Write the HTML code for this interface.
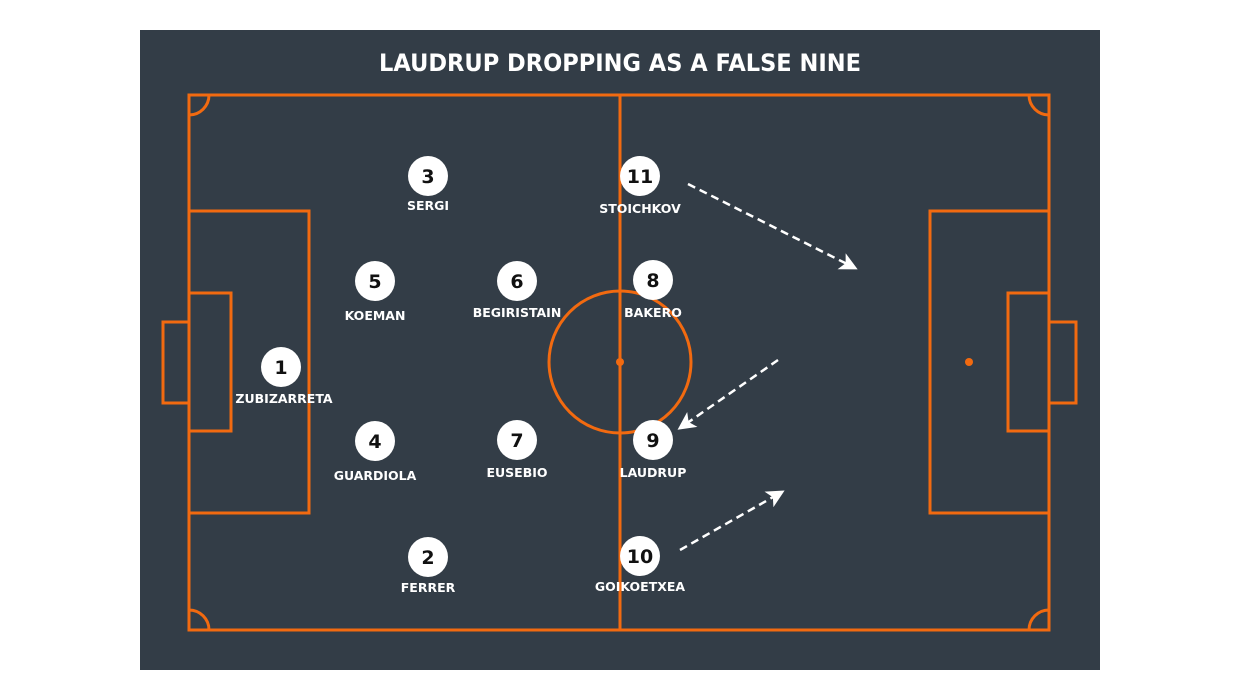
<!DOCTYPE html>
<html><head><style>
body{margin:0;width:1242px;height:700px;background:#fff;overflow:hidden}
svg{display:block}
text{font-family:"DejaVu Sans","Liberation Sans",sans-serif;font-weight:bold}
</style></head><body>
<svg width="1242" height="700" viewBox="0 0 1242 700">
<defs>
<marker id="a2" viewBox="0 0 12 12" markerWidth="18" markerHeight="18" refX="10" refY="6" orient="auto" markerUnits="userSpaceOnUse"><path d="M0,0 L12,6 L0,12 L3,6 Z" fill="#fff"/></marker></defs>
<rect x="140" y="30" width="960" height="640" fill="#333d47"/>
<text x="620" y="71" fill="#fff" font-size="24" text-anchor="middle" textLength="482" lengthAdjust="spacingAndGlyphs">LAUDRUP DROPPING AS A FALSE NINE</text>
<g fill="none" stroke="#f26a10" stroke-width="3">
<rect x="189" y="95" width="860" height="535"/>
<line x1="620" y1="95" x2="620" y2="630"/>
<circle cx="620" cy="362" r="71"/>
<rect x="189" y="211" width="120" height="302"/>
<rect x="189" y="293" width="42" height="138"/>
<rect x="163" y="322" width="26" height="81"/>
<rect x="930" y="211" width="119" height="302"/>
<rect x="1008" y="293" width="41" height="138"/>
<rect x="1049" y="322" width="27" height="81"/>
<path d="M209,95 A20,20 0 0 1 189,115"/>
<path d="M189,610 A20,20 0 0 1 209,630"/>
<path d="M1029,95 A20,20 0 0 0 1049,115"/>
<path d="M1049,610 A20,20 0 0 0 1029,630"/>
</g>
<circle cx="620" cy="362" r="4" fill="#f26a10"/>
<circle cx="969" cy="362" r="4" fill="#f26a10"/>
<g stroke="#fff" stroke-width="2.5" stroke-dasharray="8,5" fill="none">
<line x1="688" y1="184" x2="855" y2="268" marker-end="url(#a2)"/>
<line x1="778" y1="360" x2="680" y2="428" marker-end="url(#a2)"/>
<line x1="680" y1="550" x2="782" y2="492" marker-end="url(#a2)"/>
</g>
<g fill="#fff">
<circle cx="428" cy="176" r="20"/><circle cx="640" cy="176" r="20"/>
<circle cx="375" cy="281" r="20"/><circle cx="517" cy="281" r="20"/><circle cx="653" cy="280" r="20"/>
<circle cx="281" cy="367" r="20"/>
<circle cx="375" cy="441" r="20"/><circle cx="517" cy="440" r="20"/><circle cx="653" cy="440" r="20"/>
<circle cx="428" cy="557" r="20"/><circle cx="640" cy="556" r="20"/>
</g>
<g fill="#111" font-size="19" text-anchor="middle">
<text x="428" y="183">3</text><text x="640" y="183">11</text>
<text x="375" y="288">5</text><text x="517" y="288">6</text><text x="653" y="287">8</text>
<text x="281" y="374">1</text>
<text x="375" y="448">4</text><text x="517" y="447">7</text><text x="653" y="447">9</text>
<text x="428" y="564">2</text><text x="640" y="563">10</text>
</g>
<g fill="#fff" font-size="12.5" text-anchor="middle">
<text x="428" y="210">SERGI</text><text x="640" y="213">STOICHKOV</text>
<text x="375" y="320">KOEMAN</text><text x="517" y="317">BEGIRISTAIN</text><text x="653" y="317">BAKERO</text>
<text x="284" y="403">ZUBIZARRETA</text>
<text x="375" y="480">GUARDIOLA</text><text x="517" y="477">EUSEBIO</text><text x="653" y="477">LAUDRUP</text>
<text x="428" y="592">FERRER</text><text x="640" y="591">GOIKOETXEA</text>
</g>
</svg>
</body></html>
